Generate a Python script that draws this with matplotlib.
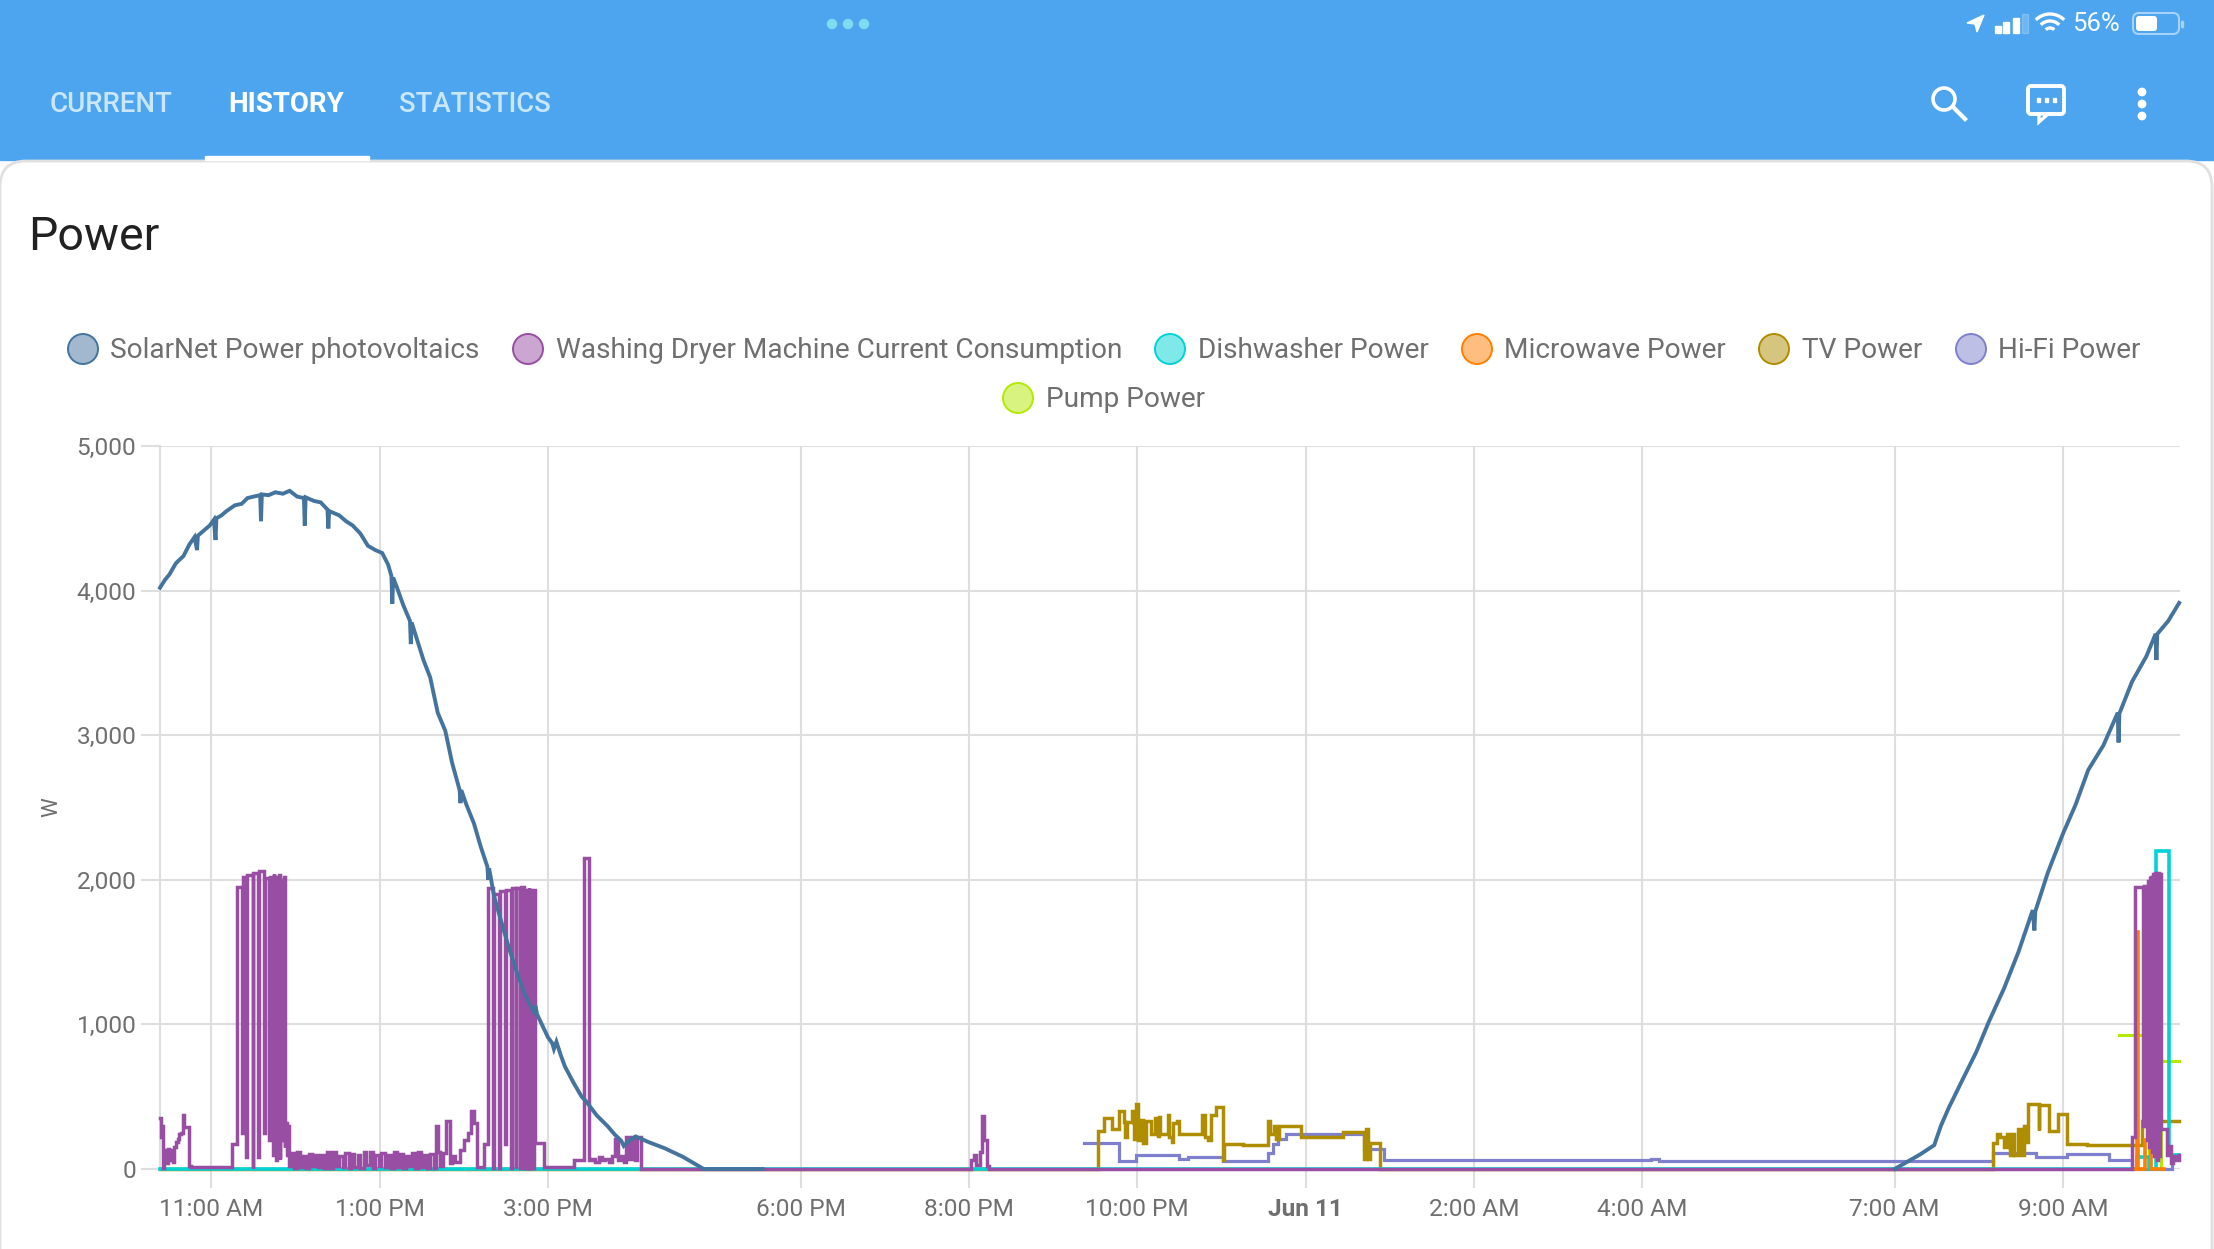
import numpy as np
import matplotlib
matplotlib.use("Agg")
import matplotlib.pyplot as plt
from matplotlib.patches import Circle, Rectangle, FancyBboxPatch, Polygon, Arc

plt.rcParams['font.family'] = ['Roboto', 'DejaVu Sans']

# Data, hours counted from midnight on Jun 10
tick_hours = [11, 13, 15, 18, 20, 22, 24, 26, 28, 31, 33]
tick_labels = ['11:00 AM', '1:00 PM', '3:00 PM', '6:00 PM', '8:00 PM', '10:00 PM',
               'Jun 11', '2:00 AM', '4:00 AM', '7:00 AM', '9:00 AM']
y_ticks = [0, 1000, 2000, 3000, 4000, 5000]

solar_t = [10.39, 10.45, 10.50, 10.58, 10.67, 10.74, 10.80, 10.83, 10.84, 10.92, 10.98, 11.03, 11.05, 11.06, 11.12, 11.18,
           11.28, 11.36, 11.43, 11.50, 11.58, 11.59, 11.60, 11.68, 11.76, 11.85,
           11.93, 12.02, 12.10, 12.11, 12.12, 12.22, 12.30, 12.38, 12.39, 12.40, 12.52, 12.60, 12.68, 12.77, 12.86, 12.95,
           13.03, 13.10, 13.14, 13.15, 13.16, 13.20, 13.28, 13.36, 13.37, 13.38, 13.45, 13.52, 13.60, 13.69, 13.78, 13.86,
           13.95, 13.96, 13.97, 14.03, 14.12, 14.20, 14.28, 14.29, 14.30, 14.36, 14.45, 14.53, 14.63, 14.73, 14.83, 14.85,
           14.87, 15.00, 15.05, 15.07, 15.10, 15.15, 15.20, 15.30, 15.40, 15.45, 15.58, 15.71, 15.79, 15.87, 15.90, 15.95,
           16.04, 16.20, 16.38, 16.60, 16.85,
           17.55, 17.56, 31.00, 31.15, 31.30, 31.47, 31.55, 31.64, 31.80, 31.97, 32.12, 32.30, 32.47, 32.64, 32.66, 32.67, 32.82,
           33.00, 33.15, 33.30, 33.48, 33.65, 33.66, 33.67, 33.82, 33.99, 34.10, 34.11, 34.12, 34.25, 34.38]
solar_w = [4020, 4075, 4110, 4190, 4240, 4320, 4370, 4280, 4380, 4420, 4450, 4490, 4350, 4500, 4520, 4550,
           4590, 4600, 4640, 4650, 4660, 4480, 4665, 4660, 4680, 4670,
           4690, 4650, 4640, 4450, 4645, 4620, 4610, 4560, 4430, 4550, 4520, 4480, 4450, 4395, 4310, 4280,
           4260, 4180, 4100, 3910, 4090, 4030, 3900, 3790, 3630, 3780, 3650, 3520, 3400, 3155, 3030, 2810,
           2620, 2530, 2620, 2520, 2390, 2230, 2090, 2000, 2080, 1885, 1700, 1540, 1360, 1200, 1090, 1130,
           1070, 910, 870, 830, 880, 790, 710, 600, 500, 470, 370, 295, 240, 195, 160, 190,
           225, 185, 145, 85, 0,
           0, np.nan, 0, 50, 100, 165, 300, 420, 610, 810, 1020, 1250, 1500, 1790, 1650, 1780, 2050,
           2320, 2520, 2760, 2930, 3155, 2950, 3150, 3370, 3545, 3700, 3520, 3700, 3790, 3915]

wash_t = [10.39, 10.40, 10.41, 10.42, 10.44, 10.46, 10.47, 10.49, 10.50, 10.52, 10.54, 10.56, 10.58, 10.60, 10.62,
          10.64, 10.66, 10.67, 10.69, 10.74, 10.76, 11.25,
          11.30, 11.365, 11.375, 11.415, 11.425, 11.49, 11.50, 11.555, 11.565, 11.63, 11.64, 11.69, 11.70, 11.71,
          11.72, 11.73, 11.74, 11.75, 11.76, 11.77, 11.78, 11.79, 11.80, 11.81, 11.82, 11.83, 11.84, 11.85,
          11.86, 11.87, 11.88, 11.90, 11.91, 11.92,
          11.95, 11.98, 12.02, 12.05, 12.09, 12.12, 12.16, 12.20, 12.23, 12.27, 12.30, 12.34, 12.38, 12.41,
          12.45, 12.48, 12.52, 12.56, 12.59, 12.63, 12.66, 12.70, 12.74, 12.77, 12.81, 12.84, 12.88, 12.92,
          12.95, 12.99, 13.02, 13.06, 13.10, 13.13, 13.17, 13.20, 13.24, 13.28, 13.31, 13.35, 13.38, 13.42,
          13.46, 13.49, 13.53, 13.56, 13.60, 13.64,
          13.67, 13.69, 13.72, 13.75, 13.79, 13.84, 13.86, 13.90, 13.96, 14.00, 14.05, 14.09, 14.12, 14.13,
          14.16, 14.21, 14.24,
          14.29, 14.345, 14.36, 14.42, 14.43, 14.49, 14.50, 14.56, 14.57, 14.615, 14.625, 14.665, 14.675, 14.72,
          14.73, 14.74, 14.75, 14.76, 14.77, 14.78, 14.79, 14.80, 14.81, 14.82, 14.83, 14.84, 14.95,
          15.31, 15.43, 15.49, 15.52, 15.56, 15.60, 15.64, 15.68, 15.72, 15.76, 15.80, 15.83, 15.87,
          15.90, 15.93, 15.96, 16.00, 16.03, 16.06, 16.10,
          20.03, 20.06, 20.09, 20.13, 20.16, 20.18, 20.21, 20.24,
          33.82, 33.85, 33.955, 33.965, 34.00, 34.01, 34.02, 34.03, 34.04, 34.05, 34.06, 34.07, 34.08, 34.09,
          34.10, 34.11, 34.12, 34.13, 34.14, 34.15, 34.16, 34.24, 34.26, 34.28, 34.31, 34.34, 34.38]
wash_w = [350, 220, 300, 10, 60, 130, 40, 140, 60, 130, 50, 150, 190, 210, 240,
          250, 370, 290, 290, 20, 12, 170,
          1950, 250, 2020, 80, 2030, 10, 2050, 80, 2060, 250, 2010, 200, 2020, 250,
          2000, 100, 2040, 300, 2010, 60, 2020, 150, 2030, 70, 1990, 300, 2000, 200,
          2020, 150, 320, 100, 300, 20,
          110, 10, 115, 15, 90, 10, 105, 20, 100, 15, 95, 5, 115, 10,
          120, 20, 90, 15, 110, 5, 105, 15, 95, 10, 115, 25, 120, 10,
          100, 20, 110, 15, 95, 5, 115, 15, 105, 10, 90, 20, 110, 10,
          115, 15, 100, 5, 105, 10,
          300, 120, 20, 110, 330, 40, 90, 50, 130, 200, 250, 400, 320, 320,
          12, 12, 170,
          1940, 5, 1900, 5, 1920, 170, 1930, 5, 1940, 5, 1940, 5, 1950, 5,
          1930, 10, 1920, 5, 1940, 5, 1930, 10, 1910, 5, 1930, 180, 12,
          60, 2150, 60, 70, 50, 80, 60, 70, 50, 90, 210, 60, 90,
          50, 220, 70, 220, 60, 220, 0,
          60, 100, 30, 120, 365, 200, 20, 0,
          220, 1950, 300, 1960, 200, 1990, 150, 2010, 150, 2020, 120, 2040, 90, 2050,
          100, 2000, 60, 2050, 90, 2040, 280, 100, 160, 40, 90, 60, 100]

dish_t = [10.39, 15.00, 33.88, 34.02, 34.10, 34.26, 34.38]
dish_w = [0, 0, 85, 0, 2200, 100, 100]

micro_t = [33.85, 33.875, 33.89, 33.98, 34.04, 34.20]
micro_w = [0, 1640, 0, 200, 0, 0]

tv_t = [10.39, 21.54, 21.60, 21.70, 21.78, 21.84, 21.86, 21.88, 21.94, 21.95, 21.965, 21.99, 22.01, 22.035, 22.07,
        22.105, 22.17, 22.21, 22.245, 22.26, 22.27, 22.37, 22.38, 22.41, 22.42, 22.47, 22.50, 22.765, 22.81, 22.84,
        22.88, 22.94, 23.02, 23.03, 23.26, 23.55, 23.58, 23.62, 23.65, 23.68, 23.72, 23.95, 23.97, 24.44, 24.70,
        24.72, 24.74, 24.77, 24.79, 24.88, 32.17, 32.21, 32.25, 32.30, 32.34, 32.37, 32.40, 32.42, 32.46, 32.50,
        32.54, 32.56, 32.58, 32.71, 32.72, 32.83, 32.94, 33.05, 33.29, 33.80, 33.94, 34.38]
tv_w = [0, 263, 350, 275, 400, 325, 220, 325, 400, 325, 210, 450, 200, 340, 180,
        335, 240, 350, 230, 360, 245, 370, 220, 190, 320, 330, 245, 375, 220, 200,
        370, 430, 60, 175, 165, 335, 245, 300, 210, 300, 300, 220, 220, 255, 70,
        280, 70, 180, 180, 0, 180, 240, 220, 150, 240, 100, 240, 100, 280, 100,
        300, 190, 450, 270, 440, 260, 380, 175, 165, 165, 330, 330]

hifi_t = [21.37, 21.78, 21.99, 22.50, 22.60, 23.02, 23.55, 23.61, 23.67, 23.77, 24.44, 24.70, 24.93, 28.10, 28.20,
          32.17, 32.68, 33.05, 33.55, 33.82, 34.30, 34.38]
hifi_w = [180, 53, 100, 70, 83, 53, 110, 175, 210, 245, 245, 140, 60, 70, 55,
          110, 85, 105, 65, 0, 100, 100]

pump_t = [33.66, 34.02, 34.03, 34.16, 34.38]
pump_w = [930, 0, 0, 750, 750]

series = [
    ('SolarNet Power photovoltaics', '#44739e', solar_t, solar_w, 'default', 8, 2.8),
    ('Washing Dryer Machine Current Consumption', '#984ea3', wash_t, wash_w, 'steps-post', 7, 2.5),
    ('Dishwasher Power', '#00d2d5', dish_t, dish_w, 'steps-post', 5, 2.6),
    ('Microwave Power', '#ff7f00', micro_t, micro_w, 'steps-post', 6, 2.6),
    ('TV Power', '#af8d00', tv_t, tv_w, 'steps-post', 4, 2.5),
    ('Hi-Fi Power', '#7f80cd', hifi_t, hifi_w, 'steps-post', 3, 2.3),
    ('Pump Power', '#b3e900', pump_t, pump_w, 'steps-post', 2, 2.2),
]

W, H = 2214, 1249
grid_col = '#dedede'
text_col = '#6f6f6f'
blue = '#4ca5ee'

fig = plt.figure(figsize=(W / 100, H / 100), dpi=100, facecolor='white')

# Chart
ax = fig.add_axes([160 / W, 1 - 1169 / H, 2020 / W, 723 / H])
for name, col, t, w, style, z, lw in series:
    ax.plot(t, w, color=col, lw=lw, drawstyle=style, zorder=z, solid_joinstyle='miter', clip_on=False)
ax.set_xlim(10.39, 34.39)
ax.set_ylim(0, 5000)
ax.set_xticks(tick_hours)
ax.set_xticklabels(tick_labels)
ax.get_xticklabels()[6].set_fontweight('bold')
ax.set_yticks(y_ticks)
ax.set_yticklabels([f'{v:,}' for v in y_ticks])
ax.grid(True, color=grid_col, lw=1.5)
ax.set_axisbelow(True)
ax.tick_params(axis='both', length=14, width=1.5, color=grid_col, labelcolor=text_col, labelsize=17.6)
ax.tick_params(axis='x', pad=7)
ax.tick_params(axis='y', pad=3)
for s in ['top', 'right', 'bottom']:
    ax.spines[s].set_visible(False)
ax.spines['left'].set_color(grid_col)
ax.spines['left'].set_linewidth(1.5)
ax.set_ylabel('W', color=text_col, fontsize=16, labelpad=10)

# App bar, title and legend, drawn in picture pixels
ui = fig.add_axes([0, 0, 1, 1], facecolor='none')
ui.set_xlim(0, W)
ui.set_ylim(H, 0)
ui.axis('off')
ui.add_patch(Rectangle((0, 0), W, 160, color=blue, zorder=1))
ui.add_patch(FancyBboxPatch((0, 161), W - 2, 1300, boxstyle='round,pad=0,rounding_size=26',
                            fc='none', ec='#e0e0e0', lw=2, zorder=1))
ui.add_patch(Rectangle((205, 156), 164, 4, color='white', zorder=2))
ui.text(111, 104, 'CURRENT', color='#c9e6fb', fontsize=20, weight='medium', ha='center', va='center')
ui.text(286, 104, 'HISTORY', color='white', fontsize=20, weight='bold', ha='center', va='center')
ui.text(475, 104, 'STATISTICS', color='#c9e6fb', fontsize=19.8, weight='medium', ha='center', va='center')
ui.text(28, 237, 'Power', color='#212121', fontsize=33.5, ha='left', va='center')

for x in [832, 848, 864]:
    ui.add_patch(Circle((x, 24), 4.5, color='#7fdcf0', zorder=3))

# status bar icons
ui.add_patch(Polygon([(1967, 23), (1984, 15), (1977, 32), (1975, 24)], color='white', zorder=3))
for x0, top, a in [(1995, 26, 1), (2003, 22, 1), (2013, 18, 1), (2022, 14, 0.2)]:
    ui.add_patch(Rectangle((x0, top), 6, 33 - top, color='white', alpha=a, zorder=3))
for r in [6, 13, 20]:
    ui.add_patch(Arc((2050, 34), r * 2, r * 2, theta1=225, theta2=315, color='white', lw=2.4, zorder=3))
ui.text(2096, 24, '56%', color='white', fontsize=18.5, ha='center', va='center', alpha=0.95)
ui.add_patch(FancyBboxPatch((2133, 13), 46, 21, boxstyle='round,pad=0,rounding_size=6',
                            fc='none', ec='#a5d2f6', lw=1.5, zorder=3))
ui.add_patch(FancyBboxPatch((2136, 16), 21, 15, boxstyle='round,pad=0,rounding_size=3',
                            fc='white', ec='none', zorder=3))
ui.add_patch(Rectangle((2181, 21), 2, 6, color='#a5d2f6', zorder=3))

# app bar icons
ui.add_patch(Circle((1944, 99), 11, fc='none', ec='white', lw=2.6, zorder=3))
ui.plot([1953, 1965], [107, 119], color='white', lw=3, zorder=3)
ui.add_patch(FancyBboxPatch((2028, 86), 36, 28, boxstyle='round,pad=0,rounding_size=3',
                            fc='none', ec='white', lw=2.8, zorder=3))
ui.add_patch(Polygon([(2039, 114), (2039, 122), (2048, 114)], fc=blue, ec='white', lw=2.4, zorder=4))
for x in [2038, 2046, 2054]:
    ui.add_patch(Rectangle((x - 1.5, 98), 3.5, 3.5, color='white', zorder=4))
for y in [92, 104, 116]:
    ui.add_patch(Circle((2142, y), 3.7, color='white', zorder=3))

# legend
legend_x = [83, 528, 1170, 1477, 1774, 1971, 1018]
legend_y = [349, 349, 349, 349, 349, 349, 398]
for (name, col, *_), x, y in zip(series, legend_x, legend_y):
    ui.add_patch(Circle((x, y), 15, fc=matplotlib.colors.to_rgba(col, 0.5), ec=col, lw=1.4, zorder=3))
    ui.text(x + 27.5, y + 1.5, name, color=text_col, fontsize=20.15, ha='left', va='center')

fig.savefig('out.png', dpi=100)
